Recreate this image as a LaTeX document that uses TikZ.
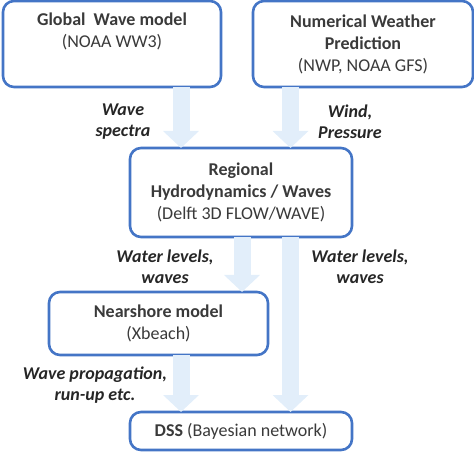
\documentclass[tikz,border=0pt]{standalone}
\usepackage{fontspec}
\setmainfont{Carlito}
\usetikzlibrary{arrows.meta}
\definecolor{boxblue}{HTML}{4475C6}
\definecolor{arrfill}{HTML}{E2EEFA}
\definecolor{txt}{HTML}{3A3A3A}
\definecolor{lbl}{HTML}{262626}
\tikzset{
  box/.style={draw=boxblue, line width=2.6pt, rounded corners=11pt, fill=white,
    align=center, text=txt, font=\fontsize{18}{22}\selectfont, inner sep=0pt},
  blockarrow/.style={draw=arrfill, line width=17pt,
    -{Triangle[width=35pt,length=17pt]}, arrfill},
  lab/.style={align=center, text=lbl, font=\fontsize{18}{21}\selectfont\bfseries\itshape}
}
\begin{document}
\begin{tikzpicture}[x=1pt,y=-1pt]
\useasboundingbox (0,0) rectangle (474,454);
\node[box, minimum width=218pt, minimum height=86pt] (glob) at (112,44)
  {\textbf{Global\ \ Wave model}\\(NOAA WW3)\\\strut};
\node[box, minimum width=220pt, minimum height=86pt] (nwp) at (363,44)
  {\textbf{Numerical Weather}\\\textbf{Prediction}\\(NWP, NOAA GFS)};
\node[box, minimum width=222pt, minimum height=89pt] (reg) at (241,192.5)
  {\textbf{Regional}\\\textbf{Hydrodynamics / Waves}\\(Delft 3D FLOW/WAVE)};
\node[box, minimum width=219pt, minimum height=63pt] (near) at (158.5,323.5)
  {\textbf{Nearshore model}\\(Xbeach)};
\node[box, minimum width=222pt, minimum height=38pt] (dss) at (241,431)
  {\textbf{DSS} (Bayesian network)};

\coordinate (x1) at (181,0);
\coordinate (x2) at (290.5,0);
\coordinate (x3) at (242,0);

\draw[blockarrow] ([yshift=1.3pt]glob.south -| x1) -- ([yshift=-1.3pt]reg.north -| x1);
\draw[blockarrow] ([yshift=1.3pt]nwp.south -| x2) -- ([yshift=-1.3pt]reg.north -| x2);
\draw[blockarrow] ([yshift=1.3pt]reg.south -| x3) -- ([yshift=-1.3pt]near.north -| x3);
\draw[blockarrow] ([yshift=1.3pt]reg.south -| x2) -- ([yshift=-1.3pt]dss.north -| x2);
\draw[blockarrow] ([yshift=1.3pt]near.south -| x1) -- ([yshift=-1.3pt]dss.north -| x1);

\node[lab] (l1) at (123,122) {Wave\\spectra};
\node[lab] (l2) at (350,122) {Wind,\\Pressure};
\node[lab] (l3) at (165,267) {Water levels,\\waves};
\node[lab] (l4) at (360,267) {Water levels,\\waves};
\node[lab] (l5) at (95,385) {Wave propagation,\\run-up etc.};
\end{tikzpicture}
\end{document}
